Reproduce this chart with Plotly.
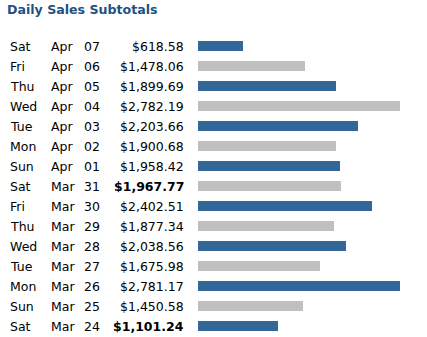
import plotly.graph_objects as go

weekdays = ["Sat", "Fri", "Thu", "Wed", "Tue", "Mon", "Sun", "Sat", "Fri", "Thu", "Wed", "Tue", "Mon", "Sun", "Sat"]
months = ["Apr", "Apr", "Apr", "Apr", "Apr", "Apr", "Apr", "Mar", "Mar", "Mar", "Mar", "Mar", "Mar", "Mar", "Mar"]
days = ["07", "06", "05", "04", "03", "02", "01", "31", "30", "29", "28", "27", "26", "25", "24"]
sales = [618.58, 1478.06, 1899.69, 2782.19, 2203.66, 1900.68, 1958.42, 1967.77,
         2402.51, 1877.34, 2038.56, 1675.98, 2781.17, 1450.58, 1101.24]
bold_rows = [7, 14]

BLUE = "#336699"
GRAY = "#c0c0c0"
FONT = "DejaVu Sans, Verdana, sans-serif"

rows = list(range(len(sales)))
colors = [BLUE if i % 2 == 0 else GRAY for i in rows]

fig = go.Figure(go.Bar(
    x=sales, y=rows, orientation="h", marker=dict(color=colors, line=dict(width=0)),
    width=0.5, hoverinfo="skip",
))

L, R = 198, 20
plot_w = 427 - L - R

def px_to_paper(px):
    return (px - L) / plot_w

annotations = []
for i in rows:
    amt = "${:,.2f}".format(sales[i])
    if i in bold_rows:
        amt = "<b>" + amt + "</b>"
    for txt, px, anchor in [(weekdays[i], 8, "left"), (months[i], 49, "left"),
                             (days[i], 82, "left"), (amt, 186, "right")]:
        annotations.append(dict(
            x=px_to_paper(px), xref="paper", y=i, yref="y", text=txt,
            showarrow=False, xanchor=anchor, yanchor="middle",
            font=dict(family=FONT, size=12.5, color="#000000"),
        ))

annotations.append(dict(
    x=px_to_paper(5), xref="paper", y=1, yref="paper", yshift=36, text="<b>Daily Sales Subtotals</b>",
    showarrow=False, xanchor="left", yanchor="top",
    font=dict(family=FONT, size=12.6, color="#1d5283"),
))

fig.update_layout(
    width=427, height=337,
    margin=dict(l=L, r=R, t=36, b=1, pad=0),
    paper_bgcolor="white", plot_bgcolor="white",
    showlegend=False,
    xaxis=dict(range=[0, 2782.19 * plot_w / 202], visible=False, fixedrange=True),
    yaxis=dict(range=[14.5, -0.5], visible=False, fixedrange=True),
    annotations=annotations,
    bargap=0,
)

fig.write_html("out.html", config={"displayModeBar": False})
